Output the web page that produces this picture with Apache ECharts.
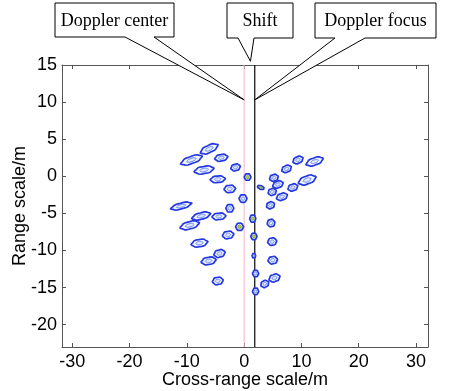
<!DOCTYPE html>
<html><head><meta charset="utf-8">
<script src="https://cdn.jsdelivr.net/npm/echarts@6/dist/echarts.min.js"></script>
<style>html,body{margin:0;padding:0;background:#fff}#c{width:474px;height:391px}</style>
</head><body><div id="c"></div>
<script>
// ---- data ----
const xRange = [-31.8, 32.1];
const yRange = [-23, 15];
const xTicks = [-30, -20, -10, 0, 10, 20, 30];
const yTicks = [-20, -15, -10, -5, 0, 5, 10, 15];
const xName = 'Cross-range scale/m';
const yName = 'Range scale/m';

// scatterer blobs: centre (m), extent along major/minor axis (m), orientation (deg), hot core flag
const blobX   = [-9.2,-6.1,-4.0,-7.0,-1.5,-4.6, 0.6,-2.5,-0.2,-11.0,-2.5,-7.5,-9.5,-4.4,-0.8,-2.8,-7.8,-4.3,-6.2,-4.6,
                  2.9, 1.5, 1.7, 1.7, 2.0, 2.0,
                  5.2, 7.4, 9.4,12.3, 5.9, 4.9, 8.5,11.0, 6.6, 4.6, 4.7, 4.9, 5.0, 5.3, 3.6];
const blobY   = [ 2.2, 3.7, 2.5, 0.85,1.2,-0.4,-0.1,-1.7,-3.0,-4.0,-4.3,-5.35,-6.6,-5.4,-6.8,-7.9,-9.0,-10.4,-11.4,-14.1,
                 -1.5,-5.7,-8.1,-10.7,-13.1,-15.5,
                 -0.2, 1.0, 2.2, 2.0,-1.1,-2.1,-1.5,-0.5,-2.75,-3.9,-6.3,-8.8,-11.3,-13.7,-14.5];
const blobLen = [ 3.8, 3.2, 2.2, 3.3, 1.6, 2.5, 1.1, 1.9, 1.3, 3.6, 1.3, 3.2, 3.3, 2.3, 1.3, 1.9, 2.8, 1.9, 2.5, 1.8,
                  0.6, 1.0, 1.0, 0.6, 1.0, 1.0,
                  1.5, 1.7, 1.8, 3.0, 1.8, 1.4, 1.7, 3.1, 1.9, 1.4, 1.3, 1.5, 1.6, 1.9, 1.4];
const blobWid = [ 1.0, 1.0, 0.9, 1.0, 0.9, 0.9, 0.9, 1.0, 1.05,0.8, 1.05,0.9, 1.0, 0.9, 1.0, 1.0, 1.0, 1.0, 1.0, 1.0,
                  0.9, 1.0, 0.9, 0.6, 0.9, 0.9,
                  0.9, 0.9, 0.9, 1.0, 0.9, 0.9, 0.9, 1.1, 0.9, 0.9, 1.0, 1.0, 1.0, 1.0, 0.9];
const blobAng = [ 20, 25, 10, 10, 15, 5, 0, 5, 0, 15, 0, 15, 15, 5, 0, 10, 10, 15, 10, 10,
                  70, 0, 0, 0, 0, 0,
                  20, 25, 25, 20, 20, 20, 20, 20, 20, 25, 15, 10, 10, 20, 30];
const blobHot = [ 0,0,0,0,0,0,1,0,0,0,0,0,0,0,1,0,0,0,0,0,
                  1,1,1,0,0,0,
                  0,0,0,0,0,0,0,0,0,0,0,0,0,0,0];

const dopplerCenterX = 0;
const dopplerFocusX = 1.85;
const pointerY = 10.3;
const shiftPointer = [1.1, 15.5];
const boxLabels = ['Doppler center', 'Shift', 'Doppler focus'];

// ---- chart ----
const chart = echarts.init(document.getElementById('c'), null, {renderer: 'canvas'});
const blobData = blobX.map((x, i) => [x, blobY[i], blobLen[i], blobWid[i], blobAng[i], blobHot[i]]);
const axisCol = '#555';
const labelFont = {color: '#000', fontFamily: 'Liberation Sans, Arial', fontSize: 18};

function xAx(pos, show) {
  return {
    type: 'value', position: pos, min: xRange[0], max: xRange[1],
    axisLine: {show: true, onZero: false, lineStyle: {color: axisCol, width: 1}},
    axisTick: {show: true, inside: true, length: 4, customValues: xTicks, lineStyle: {color: axisCol}},
    axisLabel: show ? Object.assign({customValues: xTicks, margin: 6}, labelFont) : {show: false},
    splitLine: {show: false},
    name: show ? xName : '', nameLocation: 'middle', nameGap: 24, nameMoveOverlap: false,
    nameTextStyle: {color: '#000', fontFamily: 'Liberation Sans, Arial', fontSize: 18}
  };
}
function yAx(pos, show) {
  return {
    type: 'value', position: pos, min: yRange[0], max: yRange[1],
    axisLine: {show: true, onZero: false, lineStyle: {color: axisCol, width: 1}},
    axisTick: {show: true, inside: true, length: 4, customValues: yTicks, lineStyle: {color: axisCol}},
    axisLabel: show ? Object.assign({customValues: yTicks, margin: 5}, labelFont) : {show: false},
    splitLine: {show: false},
    name: show ? yName : '', nameLocation: 'middle', nameGap: 33, nameRotate: 90, nameMoveOverlap: false,
    nameTextStyle: {color: '#000', fontFamily: 'Liberation Sans, Arial', fontSize: 18}
  };
}

function ellipsePts(c, rx, ry, a, k) {
  const pts = [];
  const n = 28;
  for (let i = 0; i < n; i++) {
    const t = i / n * 2 * Math.PI;
    const wob = 1 + 0.06 * Math.cos(6 * t);
    const ex = Math.cos(t) * rx * k * wob, ey = Math.sin(t) * ry * k * wob;
    pts.push([c[0] + ex * Math.cos(a) + ey * Math.sin(a), c[1] - ex * Math.sin(a) + ey * Math.cos(a)]);
  }
  return pts;
}

chart.setOption({
  animation: false,
  backgroundColor: '#fff',
  grid: {left: 62, right: 46, top: 65, bottom: 44, containLabel: false, outerBoundsMode: 'none'},
  xAxis: [xAx('bottom', true), xAx('top', false)],
  yAxis: [yAx('left', true), yAx('right', false)],
  series: [
    {type: 'line', symbol: 'none', silent: true, z: 2,
     data: [[dopplerCenterX, yRange[0]], [dopplerCenterX, yRange[1]]],
     lineStyle: {color: '#f7b3d0', width: 1}},
    {type: 'line', symbol: 'none', silent: true, z: 3,
     data: [[dopplerFocusX, yRange[0]], [dopplerFocusX, yRange[1]]],
     lineStyle: {color: '#1a1a1a', width: 1.3}},
    {type: 'custom', z: 5, data: blobData,
     renderItem: function (params, api) {
       const c = api.coord([api.value(0), api.value(1)]);
       const rx = api.size([api.value(2), 0])[0] / 2;
       const ry = api.size([0, api.value(3)])[1] / 2;
       const a = api.value(4) * Math.PI / 180;
       const hot = api.value(5) === 1;
       return {
         type: 'group',
         children: [
           {type: 'polygon', shape: {points: ellipsePts(c, rx, ry, a, 1)},
            style: {fill: '#f3f6ff', stroke: '#2438e0', lineWidth: 1.7}},
           {type: 'polygon', shape: {points: ellipsePts(c, rx, ry, a, 0.45)},
            style: {fill: hot ? '#b8d64a' : '#dde7ff', stroke: hot ? '#7fa030' : '#6a88f0', lineWidth: 1}}
         ]
       };
     }}
  ]
});

// ---- callout boxes ----
const pC = chart.convertToPixel({xAxisIndex: 0, yAxisIndex: 0}, [dopplerCenterX, pointerY]);
const pF = chart.convertToPixel({xAxisIndex: 0, yAxisIndex: 0}, [dopplerFocusX, pointerY]);
const pS = chart.convertToPixel({xAxisIndex: 0, yAxisIndex: 0}, shiftPointer);

function callout(x0, x1, y0, y1, ta, tb, apex, text) {
  return [
    {type: 'polygon', z: 100,
     shape: {points: [[x0, y0], [x1, y0], [x1, y1], [tb, y1], apex, [ta, y1], [x0, y1]]},
     style: {fill: '#fff', stroke: '#000', lineWidth: 1}},
    {type: 'text', z: 101, x: (x0 + x1) / 2, y: (y0 + y1) / 2 + 1,
     style: {text: text, fill: '#000', font: '18px "Liberation Serif", "Times New Roman", serif',
             align: 'center', verticalAlign: 'middle'}}
  ];
}

chart.setOption({
  graphic: [].concat(
    callout(55, 174, 3, 37, 125, 154, pC, boxLabels[0]),
    callout(227, 293, 3, 38, 238, 254, pS, boxLabels[1]),
    callout(315, 436, 3, 38, 335, 365, pF, boxLabels[2])
  )
});
</script>
</body></html>
